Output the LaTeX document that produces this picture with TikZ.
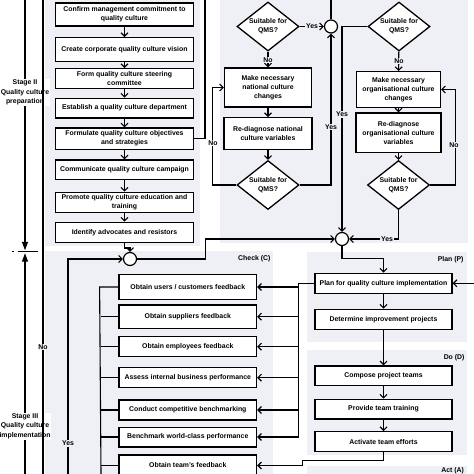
\documentclass[tikz,border=0pt]{standalone}
\usepackage{fontspec}
\setmainfont{Liberation Sans}
\usetikzlibrary{arrows.meta,shapes.geometric}

\definecolor{panel}{RGB}{238,240,246}
\newcommand{\boxfont}{\fontsize{6.9}{9}\selectfont\bfseries}

\tikzset{every picture/.style={line width=1.1pt}}
\tikzset{
  stepbox/.style={draw, fill=white, line width=1.3pt, align=center, inner sep=1pt, font=\boxfont},
  askbox/.style={diamond, draw, fill=white, line width=1.3pt, align=center, inner sep=0pt, aspect=1.27, minimum width=62pt, minimum height=49pt, font=\boxfont},
  joint/.style={circle, draw, fill=white, line width=1.2pt, minimum size=13pt, inner sep=0pt},
  flow/.style={line width=1.1pt, -{Straight Barb[length=3.5pt,width=7pt]}},
  link/.style={line width=1.1pt},
  stagearrow/.style={line width=1.1pt, -{Triangle[length=8.5pt,width=6pt]}},
  lbl/.style={fill=panel, inner sep=0.8pt, font=\boxfont},
  stagelbl/.style={fill=white, align=center, inner sep=1pt, font=\fontsize{6.9}{9.4}\selectfont\bfseries},
  phase/.style={anchor=east, inner sep=0pt, font=\boxfont},
}

\begin{document}
\begin{tikzpicture}[x=1pt,y=1pt,yscale=-1,xscale=1]
\useasboundingbox (0,0) rectangle (474,474);
\clip (0,0) rectangle (474,474);

%Shape: Panels
\fill[panel] (45,0) rectangle (200,246);
\fill[panel] (220,0) rectangle (468,243);
\fill[panel] (45,251) rectangle (273,474);
\fill[panel] (307,252) rectangle (467,342);
\fill[panel] (307,350) rectangle (467,455);
\fill[panel] (307,466) rectangle (467,474);

%Free ends
\coordinate (stagetop) at (25,0);
\coordinate (stagefoot) at (25,474);
\coordinate (stageup) at (25,250.3);
\coordinate (stagedown) at (25,253.2);
\coordinate (divl) at (12,251.7);
\coordinate (divr) at (38,251.7);
\coordinate (notop) at (43,0);
\coordinate (nofoot) at (43,474);
\coordinate (yesfoot) at (68,474);
\coordinate (objout) at (205,0);
\coordinate (natout) at (331,0);
\coordinate (fromact) at (474,283.3);
\coordinate (brk) at (101,474);

%Stage line
\draw[stagearrow] (stagetop) -- (stageup);
\draw[stagearrow] (stagefoot) -- (stagedown);
\draw[line width=1pt, dash pattern=on 1.5pt off 4pt on 20pt] (divl) -- (divr);
% Text Node
\node[stagelbl] (stageii) at (25,92.5) {Stage II\\Quality culture\\preparation};
% Text Node
\node[stagelbl] (stageiii) at (25,426.3) {Stage III\\Quality culture\\implementation};

%Straight Lines
\draw[link] (nofoot) -- (notop);

%Shape: Stage II boxes
\node[stepbox, minimum width=138pt, minimum height=23pt] (confirm) at (124.5,14.5) {Confirm management commitment to\\quality culture};
\node[stepbox, minimum width=138pt, minimum height=23.6pt] (vision) at (124.5,49.5) {Create corporate quality culture vision};
\node[stepbox, minimum width=138pt, minimum height=20pt] (steering) at (124.5,78.7) {Form quality culture steering\\committee};
\node[stepbox, minimum width=138pt, minimum height=19.7pt] (dept) at (124.5,108.2) {Establish a quality culture department};
\node[stepbox, minimum width=138pt, minimum height=21.3pt] (objectives) at (124.5,138.7) {Formulate quality culture objectives\\and strategies};
\node[stepbox, minimum width=138pt, minimum height=19.3pt] (campaign) at (124.5,169.7) {Communicate quality culture campaign};
\node[stepbox, minimum width=138pt, minimum height=20pt] (education) at (124.5,202.3) {Promote quality culture education and\\training};
\node[stepbox, minimum width=138pt, minimum height=20pt] (advocates) at (124.5,232.3) {Identify advocates and resistors};

%Straight Lines
\draw[flow] (confirm) -- (vision);
\draw[flow] (vision) -- (steering);
\draw[flow] (steering) -- (dept);
\draw[flow] (dept) -- (objectives);
\draw[flow] (objectives) -- (campaign);
\draw[flow] (campaign) -- (education);
\draw[flow] (education) -- (advocates);
\draw[link] (objectives.east) -| (objout);

%Shape: National culture
\node[askbox] (natask1) at (268,26.5) {Suitable for\\QMS?};
\node[stepbox, minimum width=87pt, minimum height=39pt] (natmake) at (268,87.5) {Make necessary\\national culture\\changes};
\node[stepbox, minimum width=88pt, minimum height=31.6pt] (natdiag) at (268,133.5) {Re-diagnose national\\culture variables};
\node[askbox] (natask2) at (268,185) {Suitable for\\QMS?};
\node[joint] (natjoin) at (331,26.5) {};

%Straight Lines
\draw[flow] (natask1) -- (natmake);
\draw[flow] (natmake) -- (natdiag);
\draw[flow] (natdiag) -- (natask2);
\draw[flow] (natask2.west) -- ++(-24,0) |- (natmake.west);
\draw[flow] (natask1.east) -- (natjoin.west);
\draw[flow] (natask2.east) -| (natjoin.south);
\draw[link] (natjoin.north) -- (natout);

%Shape: Organisational culture
\node[askbox] (orgask1) at (399,26.5) {Suitable for\\QMS?};
\node[stepbox, minimum width=84pt, minimum height=35.6pt] (orgmake) at (398.5,89.5) {Make necessary\\organisational culture\\changes};
\node[stepbox, minimum width=85pt, minimum height=39.7pt] (orgdiag) at (398.5,132.8) {Re-diagnose\\organisational culture\\variables};
\node[askbox] (orgask2) at (398.5,185) {Suitable for\\QMS?};
\node[joint] (merge) at (342,239) {};
\node[joint] (join) at (130,259) {};

%Straight Lines
\draw[flow] (orgask1) -- (orgmake);
\draw[flow] (orgmake) -- (orgdiag);
\draw[flow] (orgdiag) -- (orgask2);
\draw[flow] (orgask2.east) -- ++(25,0) |- (orgmake.east);
\draw[flow] (orgask1.west) -| (merge.north);
\draw[flow] (orgask2.south) |- (merge.east);
\draw[flow] (advocates.south) -- ++(0,5) -| (join.north);
\draw[flow] (yesfoot) |- (join.west);
\draw[flow] (join.east) -- ++(68.5,0) |- (merge.west);

%Shape: Plan and Do boxes
\node[stepbox, minimum width=137pt, minimum height=20pt] (planbox) at (383.5,283.3) {Plan for quality culture implementation};
\node[stepbox, minimum width=137pt, minimum height=20pt] (improve) at (383.5,319.3) {Determine improvement projects};
\node[stepbox, minimum width=137pt, minimum height=19.5pt] (compose) at (383.5,375.7) {Compose project teams};
\node[stepbox, minimum width=137pt, minimum height=19.7pt] (training) at (383.5,409.2) {Provide team training};
\node[stepbox, minimum width=137pt, minimum height=20pt] (activate) at (383.5,441.7) {Activate team efforts};

%Shape: Check boxes
\node[stepbox, minimum width=137.5pt, minimum height=25pt] (users) at (187.8,287) {Obtain users / customers feedback};
\node[stepbox, minimum width=137.5pt, minimum height=23.3pt] (suppliers) at (187.8,316.7) {Obtain suppliers feedback};
\node[stepbox, minimum width=137.5pt, minimum height=20pt] (employees) at (187.8,346.7) {Obtain employees feedback};
\node[stepbox, minimum width=137.5pt, minimum height=20pt] (assess) at (187.8,377.7) {Assess internal business performance};
\node[stepbox, minimum width=137.5pt, minimum height=20pt] (conduct) at (187.8,410) {Conduct competitive benchmarking};
\node[stepbox, minimum width=137.5pt, minimum height=19.7pt] (benchmark) at (187.8,437) {Benchmark world-class performance};
\node[stepbox, minimum width=137.5pt, minimum height=21pt] (team) at (187.8,465.5) {Obtain team's feedback};

%Straight Lines
\draw[flow] (merge.south) -- ++(0,12.8) -| (planbox.north);
\draw[flow] (fromact) -- (planbox.east);
\draw[flow] (planbox) -- (improve);
\draw[flow] (improve) -- (compose);
\draw[flow] (compose) -- (training);
\draw[flow] (training) -- (activate);
\foreach \chk in {users,suppliers,employees,assess,conduct,benchmark}
  \draw[flow] (planbox.west) -- ++(-15.5,0) |- (\chk.east);
\draw[flow] (activate.south) -- ++(0,8.3) -| ([xshift=45.5pt]team.east) -- (team.east);
\draw[link] (users.west) -- ++(-18.8,0) -- (brk);
\foreach \chk in {suppliers,employees,assess,conduct,benchmark,team}
  \draw[link] (\chk.west) -- (\chk.west -| brk);

% Text Node
\node[lbl] (yes1) at (312,26.5) {Yes};
% Text Node
\node[lbl] (no1) at (268,60) {No};
% Text Node
\node[lbl, fill=white] (no2) at (213,143) {No};
% Text Node
\node[lbl] (yes2) at (331,127) {Yes};
% Text Node
\node[lbl] (yes3) at (342,114.3) {Yes};
% Text Node
\node[lbl] (no3) at (399,61) {No};
% Text Node
\node[lbl] (no4) at (454,145) {No};
% Text Node
\node[lbl] (yes4) at (387,239) {Yes};
% Text Node
\node[lbl] (no5) at (43,347) {No};
% Text Node
\node[lbl] (yes5) at (68,443.3) {Yes};

% Text Node
\node[phase] (check) at (271,258.7) {Check (C)};
% Text Node
\node[phase] (plan) at (464,260) {Plan (P)};
% Text Node
\node[phase] (do) at (465,358) {Do (D)};
% Text Node
\node[phase] (act) at (464.5,470.7) {Act (A)};

\end{tikzpicture}
\end{document}
